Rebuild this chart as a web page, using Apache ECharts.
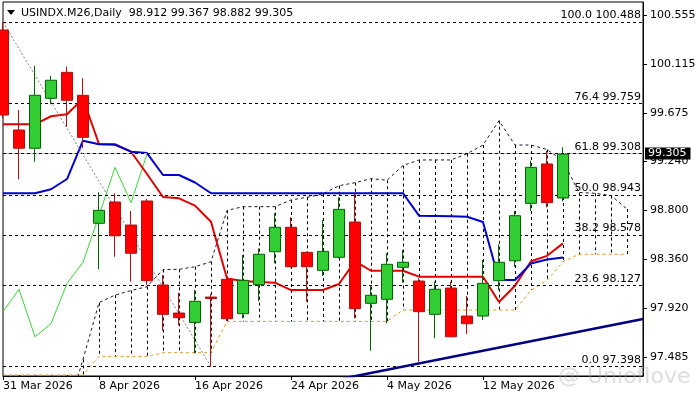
<!DOCTYPE html>
<html><head><meta charset="utf-8">
<script src="https://cdn.jsdelivr.net/npm/echarts@6/dist/echarts.min.js"></script>
<style>html,body{margin:0;padding:0;background:#fff}#c{width:700px;height:400px}</style>
</head><body><div id="c"></div>
<script>
const dates = ['31 Mar 2026','1 Apr 2026','2 Apr 2026','3 Apr 2026','6 Apr 2026','7 Apr 2026','8 Apr 2026','9 Apr 2026','10 Apr 2026','13 Apr 2026','14 Apr 2026','15 Apr 2026','16 Apr 2026','17 Apr 2026','20 Apr 2026','21 Apr 2026','22 Apr 2026','23 Apr 2026','24 Apr 2026','27 Apr 2026','28 Apr 2026','29 Apr 2026','30 Apr 2026','1 May 2026','4 May 2026','5 May 2026','6 May 2026','7 May 2026','8 May 2026','11 May 2026','12 May 2026','13 May 2026','14 May 2026','15 May 2026','18 May 2026','19 May 2026','20 May 2026','21 May 2026','22 May 2026','25 May 2026','26 May 2026'];
const opens = [100.419, 99.522, 99.358, 99.806, 100.039, 99.833, 98.685, 98.876, 98.669, 98.885, 98.131, 97.880, 97.796, 98.023, 98.182, 97.874, 98.134, 98.430, 98.649, 98.424, 98.263, 98.380, 98.696, 97.967, 98.003, 98.290, 98.167, 97.868, 98.104, 97.853, 97.853, 98.170, 98.349, 98.864, 99.217, 98.912];
const highs = [100.488, 99.701, 100.096, 100.006, 100.090, 99.986, 98.963, 98.954, 98.795, 98.903, 98.221, 98.062, 98.086, 98.050, 98.190, 98.400, 98.460, 98.774, 98.739, 98.430, 98.714, 98.918, 98.954, 98.131, 98.416, 98.445, 98.191, 98.161, 98.161, 98.032, 98.355, 98.496, 98.795, 99.246, 99.336, 99.367];
const lows = [99.629, 99.079, 99.237, 99.752, 99.551, 99.360, 98.272, 98.385, 98.161, 98.131, 97.721, 97.770, 97.518, 97.398, 97.808, 97.832, 97.987, 98.326, 98.290, 97.981, 98.212, 98.370, 97.832, 97.542, 97.788, 98.152, 97.443, 97.653, 97.662, 97.691, 97.817, 98.086, 98.295, 98.795, 98.828, 98.882];
const closes = [99.656, 99.358, 99.833, 99.968, 99.788, 99.456, 98.801, 98.573, 98.416, 98.170, 97.868, 97.838, 97.985, 98.010, 97.829, 98.173, 98.407, 98.649, 98.295, 98.295, 98.433, 98.810, 97.919, 98.039, 98.317, 98.335, 97.892, 98.093, 97.667, 97.784, 98.146, 98.335, 98.753, 99.187, 98.870, 99.305];
const tenkan = [99.573, 99.573, 99.573, 99.645, 99.663, 99.802, 99.396, 99.392, 99.327, 99.127, 98.921, 98.909, 98.843, 98.699, 98.189, 98.167, 98.158, 98.152, 98.086, 98.086, 98.086, 98.140, 98.346, 98.259, 98.259, 98.259, 98.206, 98.206, 98.206, 98.206, 98.206, 97.979, 98.124, 98.344, 98.393, 98.505];
const kijun = [98.954, 98.954, 98.954, 98.990, 99.082, 99.426, 99.394, 99.392, 99.327, 99.315, 99.118, 99.118, 99.051, 98.954, 98.954, 98.954, 98.954, 98.954, 98.954, 98.954, 98.954, 98.954, 98.954, 98.954, 98.954, 98.954, 98.753, 98.750, 98.747, 98.744, 98.696, 98.176, 98.176, 98.324, 98.360, 98.378];
const chikou = [97.892, 98.093, 97.667, 97.784, 98.146, 98.335, 98.753, 99.187, 98.870, 99.305];
const spanA = [96.98, 96.98, 96.98, 96.98, 96.98, 97.464, 97.972, 98.041, 98.082, 98.116, 98.270, 98.272, 98.295, 98.340, 98.800, 98.834, 98.834, 98.834, 98.894, 98.918, 98.948, 99.022, 99.049, 99.085, 99.071, 99.203, 99.253, 99.253, 99.253, 99.309, 99.387, 99.605, 99.387, 99.387, 99.347, 99.244, 98.961, 98.954, 98.934, 98.813];
const spanB = [97.324, 97.324, 97.324, 97.324, 97.324, 97.324, 97.491, 97.491, 97.491, 97.491, 97.524, 97.524, 97.524, 97.524, 97.805, 97.805, 97.805, 97.805, 97.805, 97.805, 97.805, 97.805, 97.805, 97.805, 97.805, 97.907, 97.907, 97.907, 97.907, 97.907, 97.907, 97.907, 97.907, 98.086, 98.171, 98.340, 98.407, 98.407, 98.407, 98.407];
const fibPct = ['100.0', '76.4', '61.8', '50.0', '38.2', '23.6', '0.0'];
const fibVal = [100.488, 99.759, 99.308, 98.943, 98.578, 98.127, 97.398];
const fibStart = [0, 100.488];
const fibEnd = [13, 97.398];
const trendStart = [20, 97.257];
const trendEnd = [40, 97.826];
const lastPrice = 99.305;
const yTicks = [97.485, 97.920, 98.360, 98.800, 99.240, 99.675, 100.115, 100.555];
const labelIdx = [0, 6, 12, 18, 24, 30];
const titleText = 'USINDX.M26,Daily  98.912 99.367 98.882 99.305';

const FONT = 'DejaVu Sans';
const chart = echarts.init(document.getElementById('c'), null, {renderer: 'canvas'});
const showIdx = (i) => labelIdx.indexOf(i) >= 0;

const candleData = opens.map((o, i) => [o, closes[i], lows[i], highs[i]]);
const cloudData = spanA.map((a, i) => [i, a, spanB[i]]);

const fibMarks = fibVal.map((v, i) => ({
  yAxis: v,
  lineStyle: {color: '#000', type: [3, 3], width: 1},
  label: {show: true, position: 'insideEndTop', distance: [2, 1], formatter: fibPct[i] + ' ' + v.toFixed(3),
    color: '#000', fontFamily: FONT, fontSize: 11}
}));
fibMarks.unshift({
  yAxis: lastPrice,
  lineStyle: {color: '#b4b4b4', type: 'solid', width: 1},
  label: {show: true, position: 'end', distance: 2, formatter: lastPrice.toFixed(3), color: '#fff',
    backgroundColor: '#000', padding: [1, 4, 0, 3], fontFamily: FONT, fontSize: 11}
});

const option = {
  animation: false,
  backgroundColor: '#fff',
  grid: {left: 3, right: 57, top: 2, bottom: 24, show: true, borderColor: '#000', borderWidth: 1, backgroundColor: '#fff'},
  xAxis: {
    type: 'category', data: dates, boundaryGap: false,
    axisLine: {lineStyle: {color: '#000', width: 1}},
    axisTick: {show: true, interval: (i) => showIdx(i), length: 4, lineStyle: {color: '#000'}},
    axisLabel: {interval: (i) => showIdx(i), align: 'left', margin: 5, color: '#000', fontFamily: FONT, fontSize: 11},
    splitLine: {show: false}
  },
  yAxis: {
    type: 'value', position: 'right', min: 97.315, max: 100.670, scale: true,
    axisLine: {show: true, lineStyle: {color: '#000', width: 1}},
    axisTick: {show: true, customValues: yTicks, length: 4, lineStyle: {color: '#000'}},
    axisLabel: {customValues: yTicks, formatter: (v) => v.toFixed(3), margin: 7, color: '#000', fontFamily: FONT, fontSize: 11},
    splitLine: {show: false}
  },
  series: [
    {
      type: 'custom', name: 'cloud', z: 1, clip: true,
      encode: {x: 0, y: [1, 2]},
      data: cloudData,
      renderItem: function (params, api) {
        const x = api.value(0);
        const p1 = api.coord([x, api.value(1)]);
        const p2 = api.coord([x, api.value(2)]);
        const px = Math.round(p1[0]) + 0.5;
        return {type: 'line', shape: {x1: px, y1: p1[1], x2: px, y2: p2[1]},
          style: {stroke: '#000', lineWidth: 1, lineDash: [3, 3]}};
      }
    },
    {type: 'line', name: 'spanA', data: spanA, z: 2, symbol: 'none', silent: true,
      lineStyle: {color: '#14143c', width: 1, type: [3, 3]}},
    {type: 'line', name: 'spanB', data: spanB, z: 2, symbol: 'none', silent: true,
      lineStyle: {color: '#e09a2c', width: 1, type: [3, 3]}},
    {type: 'line', name: 'chikou', data: chikou, z: 3, symbol: 'none', silent: true,
      lineStyle: {color: '#3ad43a', width: 1}},
    {type: 'line', name: 'tenkan', data: tenkan, z: 4, symbol: 'none', silent: true,
      lineStyle: {color: '#e00000', width: 2}},
    {type: 'line', name: 'kijun', data: kijun, z: 4, symbol: 'none', silent: true,
      lineStyle: {color: '#0000cc', width: 2}},
    {type: 'line', name: 'fib', data: [fibStart, fibEnd], z: 5, symbol: 'none', silent: true,
      lineStyle: {color: '#808080', width: 1, type: [2, 2]},
      markLine: {silent: true, symbol: ['none', 'none'], z: 5, animation: false, data: fibMarks}},
    {type: 'line', name: 'trend', data: [trendStart, trendEnd], z: 6, symbol: 'none', silent: true,
      lineStyle: {color: '#000080', width: 2.5}},
    {
      type: 'candlestick', name: 'USINDX', data: candleData, z: 10, barWidth: 11,
      itemStyle: {color: '#32cd32', color0: '#ff0000', borderColor: '#006400', borderColor0: '#b01010', borderWidth: 1}
    }
  ],
  graphic: [
    {type: 'polygon', z: 100, shape: {points: [[7, 10], [15, 10], [11, 15]]}, style: {fill: '#000'}},
    {type: 'text', z: 100, x: 21, y: 13, style: {text: titleText, fill: '#000', font: '11px "DejaVu Sans"', verticalAlign: 'middle', textAlign: 'left'}},
    {type: 'text', z: 100, x: 558, y: 377, silent: true, style: {text: '@ Unioflove', fill: 'rgba(170,170,170,0.4)', font: '22px "DejaVu Sans"', verticalAlign: 'middle', textAlign: 'left'}}
  ]
};
chart.setOption(option);
</script>
</body></html>
